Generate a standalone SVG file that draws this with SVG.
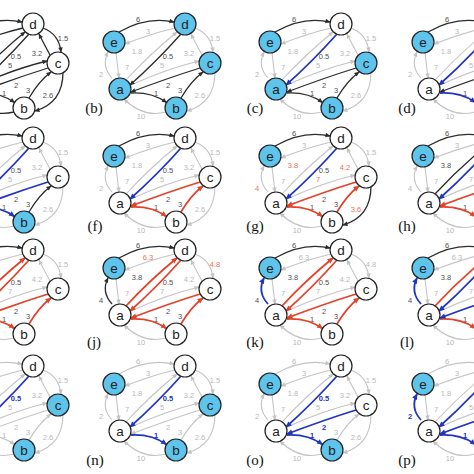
<svg xmlns="http://www.w3.org/2000/svg" xmlns:xlink="http://www.w3.org/1999/xlink" width="474" height="474" viewBox="0 0 474 474">
<style>
.eK{fill:none;stroke:#2b2b2b;stroke-width:1.3;marker-end:url(#mK)}
.eG{fill:none;stroke:#c4c4c4;stroke-width:1.1;marker-end:url(#mG)}
.eB{fill:none;stroke:#2035c2;stroke-width:1.8;marker-end:url(#mB)}
.eR{fill:none;stroke:#e2432a;stroke-width:1.8;marker-end:url(#mR)}
text.l{font-family:"Liberation Sans",Arial,sans-serif;font-size:7.5px;text-anchor:middle}
.tk{fill:#505050}.tg{fill:#b8b8b8}.tr{fill:#e8714f}.tb{fill:#2035c2;font-weight:bold}
circle.n{fill:#fff;stroke:#222;stroke-width:1.2}
circle.s{fill:#5ec4ec}
text.nl{font-family:"Liberation Sans",Arial,sans-serif;font-size:13.5px;text-anchor:middle;fill:#222}
text.p{font-family:"Liberation Serif","Times New Roman",serif;font-size:15px;text-anchor:middle;fill:#111}
</style>
<defs>
<marker id="mK" viewBox="0 0 10 10" refX="9" refY="5" markerWidth="6" markerHeight="5" orient="auto" markerUnits="userSpaceOnUse"><path d="M0,0.5L10,5L0,9.5z" fill="#2b2b2b"/></marker>
<marker id="mG" viewBox="0 0 10 10" refX="9" refY="5" markerWidth="6" markerHeight="5" orient="auto" markerUnits="userSpaceOnUse"><path d="M0,0.5L10,5L0,9.5z" fill="#c4c4c4"/></marker>
<marker id="mB" viewBox="0 0 10 10" refX="9" refY="5" markerWidth="7" markerHeight="6" orient="auto" markerUnits="userSpaceOnUse"><path d="M0,0.5L10,5L0,9.5z" fill="#2035c2"/></marker>
<marker id="mR" viewBox="0 0 10 10" refX="9" refY="5" markerWidth="7" markerHeight="6" orient="auto" markerUnits="userSpaceOnUse"><path d="M0,0.5L10,5L0,9.5z" fill="#e2432a"/></marker>
<path id="p-ed" d="M119,32 Q147,16 174,22"/>
<path id="p-de" d="M175,28 Q150,34 125,44"/>
<path id="p-ae" d="M112,78 Q101,66 108,52"/>
<path id="p-ea" d="M116,53 L119,78"/>
<path id="p-ad" d="M126,80 Q150,54 177,32"/>
<path id="p-da" d="M181,34 Q156,62 130,85"/>
<path id="p-ac" d="M131,85 Q166,69 199,61"/>
<path id="p-ca" d="M200,68 Q168,78 131,92"/>
<path id="p-ab" d="M131,93 Q152,92 166.5,102.5"/>
<path id="p-ba" d="M166,112 Q143,118 124,99"/>
<path id="p-bc" d="M181,98 Q191,81 203,72"/>
<path id="p-cb" d="M215,72 Q215,103 187,111"/>
<path id="p-dc" d="M195,28 Q211,34 213,52"/>
<path id="p-cd" d="M202,55 Q196,44 191,34"/>
</defs>
<rect width="474" height="474" fill="#fff"/>

<!-- (a) -->
<g id="panel-a" transform="translate(-152,0)">
<g id="a-edges">
<use href="#p-ed" class="eK"/><use href="#p-de" class="eK"/><use href="#p-ae" class="eK"/><use href="#p-ea" class="eK"/><use href="#p-ad" class="eK"/><use href="#p-da" class="eK"/><use href="#p-ac" class="eK"/><use href="#p-ca" class="eK"/><use href="#p-ab" class="eK"/><use href="#p-ba" class="eK"/><use href="#p-bc" class="eK"/><use href="#p-cb" class="eK"/><use href="#p-dc" class="eK"/><use href="#p-cd" class="eK"/>
</g>
<g id="a-labels">
<text class="l tk" x="168" y="58.7">0.5</text><text class="l tk" x="162" y="67.7">5</text><text class="l tk" x="168" y="87.7">2</text><text class="l tk" x="156" y="95.7">1</text><text class="l tk" x="180" y="92.7">3</text><text class="l tk" x="200" y="97.7">2.6</text><text class="l tk" x="215" y="40.7">1.5</text><text class="l tk" x="189" y="55.7">3.2</text>
</g>
<g id="a-node-d"><circle class="n" cx="185" cy="24" r="11"/><text class="nl" x="185" y="28.5">d</text></g>
<g id="a-node-c"><circle class="n" cx="210" cy="63" r="11"/><text class="nl" x="210" y="67.5">c</text></g>
<g id="a-node-b"><circle class="n" cx="176" cy="108" r="11"/><text class="nl" x="176" y="112.5">b</text></g>
</g>

<!-- (b) -->
<g id="panel-b" transform="translate(0,0)">
<g id="b-edges">
<use href="#p-de" class="eG"/><use href="#p-ae" class="eG"/><use href="#p-ea" class="eG"/><use href="#p-ad" class="eG"/><use href="#p-ac" class="eG"/><use href="#p-ba" class="eG"/><use href="#p-cb" class="eG"/><use href="#p-dc" class="eG"/><use href="#p-cd" class="eG"/>
<use href="#p-ed" class="eK"/><use href="#p-da" class="eK"/><use href="#p-ca" class="eK"/><use href="#p-ab" class="eK"/><use href="#p-bc" class="eK"/>
</g>
<g id="b-labels">
<text class="l tk" x="138" y="21.7">6</text><text class="l tg" x="148" y="33.7">3</text><text class="l tg" x="101" y="76.7">2</text><text class="l tg" x="127" y="69.7">7</text><text class="l tg" x="137" y="53.7">1.8</text><text class="l tk" x="168" y="58.7">0.5</text><text class="l tg" x="162" y="67.7">5</text><text class="l tk" x="168" y="87.7">2</text><text class="l tk" x="156" y="95.7">1</text><text class="l tg" x="141" y="119.2">10</text><text class="l tk" x="180" y="92.7">3</text><text class="l tg" x="200" y="97.7">2.6</text><text class="l tg" x="215" y="40.7">1.5</text><text class="l tg" x="189" y="55.7">3.2</text>
</g>
<g id="b-node-e"><circle class="n s" cx="114" cy="42" r="11"/><text class="nl" x="114" y="46.5">e</text></g>
<g id="b-node-d"><circle class="n s" cx="185" cy="24" r="11"/><text class="nl" x="185" y="28.5">d</text></g>
<g id="b-node-c"><circle class="n s" cx="210" cy="63" r="11"/><text class="nl" x="210" y="67.5">c</text></g>
<g id="b-node-a"><circle class="n s" cx="120" cy="89" r="11"/><text class="nl" x="120" y="93.5">a</text></g>
<g id="b-node-b"><circle class="n s" cx="176" cy="108" r="11"/><text class="nl" x="176" y="112.5">b</text></g>
<text class="p" x="94" y="113">(b)</text>
</g>

<!-- (c) -->
<g id="panel-c" transform="translate(156,0)">
<g id="c-edges">
<use href="#p-de" class="eG"/><use href="#p-ae" class="eG"/><use href="#p-ea" class="eG"/><use href="#p-ad" class="eG"/><use href="#p-ac" class="eG"/><use href="#p-ba" class="eG"/><use href="#p-cb" class="eG"/><use href="#p-dc" class="eG"/><use href="#p-cd" class="eG"/>
<use href="#p-ed" class="eK"/><use href="#p-ca" class="eK"/><use href="#p-ab" class="eK"/><use href="#p-bc" class="eK"/><use href="#p-da" class="eB"/>
</g>
<g id="c-labels">
<text class="l tk" x="138" y="21.7">6</text><text class="l tg" x="148" y="33.7">3</text><text class="l tg" x="101" y="76.7">2</text><text class="l tg" x="127" y="69.7">7</text><text class="l tg" x="137" y="53.7">1.8</text><text class="l tk" x="168" y="58.7">0.5</text><text class="l tg" x="162" y="67.7">5</text><text class="l tk" x="168" y="87.7">2</text><text class="l tk" x="156" y="95.7">1</text><text class="l tg" x="141" y="119.2">10</text><text class="l tk" x="180" y="92.7">3</text><text class="l tg" x="200" y="97.7">2.6</text><text class="l tg" x="215" y="40.7">1.5</text><text class="l tg" x="189" y="55.7">3.2</text>
</g>
<g id="c-node-e"><circle class="n s" cx="114" cy="42" r="11"/><text class="nl" x="114" y="46.5">e</text></g>
<g id="c-node-d"><circle class="n" cx="185" cy="24" r="11"/><text class="nl" x="185" y="28.5">d</text></g>
<g id="c-node-c"><circle class="n s" cx="210" cy="63" r="11"/><text class="nl" x="210" y="67.5">c</text></g>
<g id="c-node-a"><circle class="n s" cx="120" cy="89" r="11"/><text class="nl" x="120" y="93.5">a</text></g>
<g id="c-node-b"><circle class="n s" cx="176" cy="108" r="11"/><text class="nl" x="176" y="112.5">b</text></g>
<text class="p" x="99" y="113">(c)</text>
</g>

<!-- (d) -->
<g id="panel-d" transform="translate(309,0)">
<g id="d-edges">
<use href="#p-de" class="eG"/><use href="#p-ae" class="eG"/><use href="#p-ea" class="eG"/><use href="#p-ad" class="eG"/><use href="#p-ac" class="eG"/><use href="#p-ba" class="eG"/><use href="#p-cb" class="eG"/><use href="#p-dc" class="eG"/><use href="#p-cd" class="eG"/>
<use href="#p-ed" class="eK"/><use href="#p-ca" class="eK"/><use href="#p-bc" class="eK"/><use href="#p-da" class="eB"/><use href="#p-ab" class="eB"/>
</g>
<g id="d-labels">
<text class="l tk" x="138" y="21.7">6</text><text class="l tg" x="148" y="33.7">3</text><text class="l tg" x="101" y="76.7">2</text><text class="l tg" x="127" y="69.7">7</text><text class="l tg" x="137" y="53.7">1.8</text><text class="l tg" x="162" y="67.7">5</text><text class="l tk" x="156" y="95.7">1</text><text class="l tg" x="141" y="119.2">10</text>
</g>
<g id="d-node-e"><circle class="n s" cx="114" cy="42" r="11"/><text class="nl" x="114" y="46.5">e</text></g>
<g id="d-node-a"><circle class="n" cx="120" cy="89" r="11"/><text class="nl" x="120" y="93.5">a</text></g>
<text class="p" x="98" y="113">(d)</text>
</g>

<!-- (e) -->
<g id="panel-e" transform="translate(-152,114)">
<g id="e-edges">
<use href="#p-de" class="eG"/><use href="#p-ae" class="eG"/><use href="#p-ea" class="eG"/><use href="#p-ad" class="eG"/><use href="#p-ac" class="eG"/><use href="#p-ba" class="eG"/><use href="#p-cb" class="eG"/><use href="#p-dc" class="eG"/><use href="#p-cd" class="eG"/>
<use href="#p-ed" class="eK"/><use href="#p-bc" class="eK"/><use href="#p-da" class="eB"/><use href="#p-ca" class="eB"/><use href="#p-ab" class="eB"/>
</g>
<g id="e-labels">
<text class="l tk" x="168" y="58.7">0.5</text><text class="l tg" x="162" y="67.7">5</text><text class="l tk" x="168" y="87.7">2</text><text class="l tk" x="156" y="95.7">1</text><text class="l tk" x="180" y="92.7">3</text><text class="l tg" x="200" y="97.7">2.6</text><text class="l tg" x="215" y="40.7">1.5</text><text class="l tg" x="189" y="55.7">3.2</text>
</g>
<g id="e-node-d"><circle class="n" cx="185" cy="24" r="11"/><text class="nl" x="185" y="28.5">d</text></g>
<g id="e-node-c"><circle class="n" cx="210" cy="63" r="11"/><text class="nl" x="210" y="67.5">c</text></g>
<g id="e-node-b"><circle class="n s" cx="176" cy="108" r="11"/><text class="nl" x="176" y="112.5">b</text></g>
</g>

<!-- (f) -->
<g id="panel-f" transform="translate(0,114)">
<g id="f-edges">
<use href="#p-de" class="eG"/><use href="#p-ae" class="eG"/><use href="#p-ea" class="eG"/><use href="#p-ad" class="eG"/><use href="#p-ac" class="eG"/><use href="#p-ba" class="eG"/><use href="#p-cb" class="eG"/><use href="#p-dc" class="eG"/><use href="#p-cd" class="eG"/>
<use href="#p-ed" class="eK"/><use href="#p-da" class="eB"/><use href="#p-ca" class="eR"/><use href="#p-ab" class="eR"/><use href="#p-bc" class="eR"/>
</g>
<g id="f-labels">
<text class="l tk" x="138" y="21.7">6</text><text class="l tg" x="148" y="33.7">3</text><text class="l tg" x="101" y="76.7">2</text><text class="l tg" x="127" y="69.7">7</text><text class="l tg" x="137" y="53.7">1.8</text><text class="l tk" x="168" y="58.7">0.5</text><text class="l tg" x="162" y="67.7">5</text><text class="l tk" x="168" y="87.7">2</text><text class="l tk" x="156" y="95.7">1</text><text class="l tg" x="141" y="119.2">10</text><text class="l tk" x="180" y="92.7">3</text><text class="l tg" x="200" y="97.7">2.6</text><text class="l tg" x="215" y="40.7">1.5</text><text class="l tg" x="189" y="55.7">3.2</text>
</g>
<g id="f-node-e"><circle class="n s" cx="114" cy="42" r="11"/><text class="nl" x="114" y="46.5">e</text></g>
<g id="f-node-d"><circle class="n" cx="185" cy="24" r="11"/><text class="nl" x="185" y="28.5">d</text></g>
<g id="f-node-c"><circle class="n" cx="210" cy="63" r="11"/><text class="nl" x="210" y="67.5">c</text></g>
<g id="f-node-a"><circle class="n" cx="120" cy="89" r="11"/><text class="nl" x="120" y="93.5">a</text></g>
<g id="f-node-b"><circle class="n" cx="176" cy="108" r="11"/><text class="nl" x="176" y="112.5">b</text></g>
<text class="p" x="95" y="116.5">(f)</text>
</g>

<!-- (g) -->
<g id="panel-g" transform="translate(156,114)">
<g id="g-edges">
<use href="#p-de" class="eG"/><use href="#p-ae" class="eG"/><use href="#p-ea" class="eG"/><use href="#p-ad" class="eG"/><use href="#p-ac" class="eG"/><use href="#p-ba" class="eG"/><use href="#p-dc" class="eG"/><use href="#p-cd" class="eG"/>
<use href="#p-ed" class="eK"/><use href="#p-cb" class="eK"/><use href="#p-da" class="eB"/><use href="#p-ca" class="eR"/><use href="#p-ab" class="eR"/><use href="#p-bc" class="eR"/>
</g>
<g id="g-labels">
<text class="l tk" x="138" y="21.7">6</text><text class="l tg" x="148" y="33.7">3</text><text class="l tr" x="101" y="76.7">4</text><text class="l tg" x="127" y="69.7">7</text><text class="l tr" x="137" y="53.7">3.8</text><text class="l tk" x="168" y="58.7">0.5</text><text class="l tr" x="162" y="67.7">7</text><text class="l tk" x="168" y="87.7">2</text><text class="l tk" x="156" y="95.7">1</text><text class="l tg" x="141" y="119.2">10</text><text class="l tk" x="180" y="92.7">3</text><text class="l tr" x="200" y="97.7">3.6</text><text class="l tg" x="215" y="40.7">1.5</text><text class="l tr" x="189" y="55.7">4.2</text>
</g>
<g id="g-node-e"><circle class="n s" cx="114" cy="42" r="11"/><text class="nl" x="114" y="46.5">e</text></g>
<g id="g-node-d"><circle class="n" cx="185" cy="24" r="11"/><text class="nl" x="185" y="28.5">d</text></g>
<g id="g-node-c"><circle class="n" cx="210" cy="63" r="11"/><text class="nl" x="210" y="67.5">c</text></g>
<g id="g-node-a"><circle class="n" cx="120" cy="89" r="11"/><text class="nl" x="120" y="93.5">a</text></g>
<g id="g-node-b"><circle class="n" cx="176" cy="108" r="11"/><text class="nl" x="176" y="112.5">b</text></g>
<text class="p" x="99" y="116.5">(g)</text>
</g>

<!-- (h) -->
<g id="panel-h" transform="translate(309,114)">
<g id="h-edges">
<use href="#p-de" class="eG"/><use href="#p-ae" class="eG"/><use href="#p-ea" class="eG"/><use href="#p-ac" class="eG"/><use href="#p-ba" class="eG"/><use href="#p-dc" class="eG"/><use href="#p-cd" class="eG"/>
<use href="#p-ed" class="eK"/><use href="#p-ad" class="eK"/><use href="#p-cb" class="eK"/><use href="#p-da" class="eB"/><use href="#p-ca" class="eR"/><use href="#p-ab" class="eR"/><use href="#p-bc" class="eR"/>
</g>
<g id="h-labels">
<text class="l tk" x="138" y="21.7">6</text><text class="l tg" x="148" y="33.7">3</text><text class="l tg" x="101" y="76.7">4</text><text class="l tg" x="127" y="69.7">7</text><text class="l tk" x="137" y="53.7">3.8</text><text class="l tg" x="162" y="67.7">7</text><text class="l tk" x="156" y="95.7">1</text><text class="l tg" x="141" y="119.2">10</text>
</g>
<g id="h-node-e"><circle class="n s" cx="114" cy="42" r="11"/><text class="nl" x="114" y="46.5">e</text></g>
<g id="h-node-a"><circle class="n" cx="120" cy="89" r="11"/><text class="nl" x="120" y="93.5">a</text></g>
<text class="p" x="98" y="116.5">(h)</text>
</g>

<!-- (i) -->
<g id="panel-i" transform="translate(-152,226)">
<g id="i-edges">
<use href="#p-de" class="eG"/><use href="#p-ae" class="eG"/><use href="#p-ea" class="eG"/><use href="#p-ac" class="eG"/><use href="#p-ba" class="eG"/><use href="#p-dc" class="eG"/><use href="#p-cd" class="eG"/>
<use href="#p-ed" class="eK"/><use href="#p-ad" class="eR"/><use href="#p-da" class="eR"/><use href="#p-ca" class="eR"/><use href="#p-ab" class="eR"/><use href="#p-bc" class="eR"/>
</g>
<g id="i-labels">
<text class="l tk" x="168" y="58.7">0.5</text><text class="l tg" x="162" y="67.7">7</text><text class="l tk" x="168" y="87.7">2</text><text class="l tk" x="156" y="95.7">1</text><text class="l tk" x="180" y="92.7">3</text><text class="l tg" x="215" y="40.7">1.5</text><text class="l tg" x="189" y="55.7">4.2</text>
</g>
<g id="i-node-d"><circle class="n" cx="185" cy="24" r="11"/><text class="nl" x="185" y="28.5">d</text></g>
<g id="i-node-c"><circle class="n" cx="210" cy="63" r="11"/><text class="nl" x="210" y="67.5">c</text></g>
<g id="i-node-b"><circle class="n" cx="176" cy="108" r="11"/><text class="nl" x="176" y="112.5">b</text></g>
</g>

<!-- (j) -->
<g id="panel-j" transform="translate(0,226)">
<g id="j-edges">
<use href="#p-de" class="eG"/><use href="#p-ea" class="eG"/><use href="#p-ac" class="eG"/><use href="#p-ba" class="eG"/><use href="#p-dc" class="eG"/><use href="#p-cd" class="eG"/>
<use href="#p-ed" class="eK"/><use href="#p-ae" class="eK"/><use href="#p-ad" class="eR"/><use href="#p-da" class="eR"/><use href="#p-ca" class="eR"/><use href="#p-ab" class="eR"/><use href="#p-bc" class="eR"/>
</g>
<g id="j-labels">
<text class="l tk" x="138" y="21.7">6</text><text class="l tr" x="148" y="33.7">6.3</text><text class="l tk" x="101" y="76.7">4</text><text class="l tg" x="127" y="69.7">7</text><text class="l tk" x="137" y="53.7">3.8</text><text class="l tk" x="168" y="58.7">0.5</text><text class="l tg" x="162" y="67.7">7</text><text class="l tk" x="168" y="87.7">2</text><text class="l tk" x="156" y="95.7">1</text><text class="l tg" x="141" y="119.2">10</text><text class="l tk" x="180" y="92.7">3</text><text class="l tr" x="215" y="40.7">4.8</text><text class="l tg" x="189" y="55.7">4.2</text>
</g>
<g id="j-node-e"><circle class="n s" cx="114" cy="42" r="11"/><text class="nl" x="114" y="46.5">e</text></g>
<g id="j-node-d"><circle class="n" cx="185" cy="24" r="11"/><text class="nl" x="185" y="28.5">d</text></g>
<g id="j-node-c"><circle class="n" cx="210" cy="63" r="11"/><text class="nl" x="210" y="67.5">c</text></g>
<g id="j-node-a"><circle class="n" cx="120" cy="89" r="11"/><text class="nl" x="120" y="93.5">a</text></g>
<g id="j-node-b"><circle class="n" cx="176" cy="108" r="11"/><text class="nl" x="176" y="112.5">b</text></g>
<text class="p" x="94" y="121">(j)</text>
</g>

<!-- (k) -->
<g id="panel-k" transform="translate(156,226)">
<g id="k-edges">
<use href="#p-de" class="eG"/><use href="#p-ea" class="eG"/><use href="#p-ac" class="eG"/><use href="#p-ba" class="eG"/><use href="#p-dc" class="eG"/><use href="#p-cd" class="eG"/>
<use href="#p-ed" class="eK"/><use href="#p-ad" class="eR"/><use href="#p-da" class="eR"/><use href="#p-ca" class="eR"/><use href="#p-ab" class="eR"/><use href="#p-bc" class="eR"/><use href="#p-ae" class="eB"/>
</g>
<g id="k-labels">
<text class="l tk" x="138" y="21.7">6</text><text class="l tg" x="148" y="33.7">6.3</text><text class="l tk" x="101" y="76.7">4</text><text class="l tg" x="127" y="69.7">7</text><text class="l tk" x="137" y="53.7">3.8</text><text class="l tk" x="168" y="58.7">0.5</text><text class="l tg" x="162" y="67.7">7</text><text class="l tk" x="168" y="87.7">2</text><text class="l tk" x="156" y="95.7">1</text><text class="l tg" x="141" y="119.2">10</text><text class="l tk" x="180" y="92.7">3</text><text class="l tg" x="215" y="40.7">4.8</text><text class="l tg" x="189" y="55.7">4.2</text>
</g>
<g id="k-node-e"><circle class="n s" cx="114" cy="42" r="11"/><text class="nl" x="114" y="46.5">e</text></g>
<g id="k-node-d"><circle class="n" cx="185" cy="24" r="11"/><text class="nl" x="185" y="28.5">d</text></g>
<g id="k-node-c"><circle class="n" cx="210" cy="63" r="11"/><text class="nl" x="210" y="67.5">c</text></g>
<g id="k-node-a"><circle class="n" cx="120" cy="89" r="11"/><text class="nl" x="120" y="93.5">a</text></g>
<g id="k-node-b"><circle class="n" cx="176" cy="108" r="11"/><text class="nl" x="176" y="112.5">b</text></g>
<text class="p" x="99" y="121">(k)</text>
</g>

<!-- (l) -->
<g id="panel-l" transform="translate(309,226)">
<g id="l-edges">
<use href="#p-de" class="eG"/><use href="#p-ea" class="eG"/><use href="#p-ac" class="eG"/><use href="#p-ba" class="eG"/><use href="#p-dc" class="eG"/><use href="#p-cd" class="eG"/>
<use href="#p-ed" class="eK"/><use href="#p-ad" class="eR"/><use href="#p-ab" class="eR"/><use href="#p-bc" class="eR"/><use href="#p-ae" class="eB"/><use href="#p-da" class="eB"/><use href="#p-ca" class="eB"/>
</g>
<g id="l-labels">
<text class="l tk" x="138" y="21.7">6</text><text class="l tg" x="148" y="33.7">6.3</text><text class="l tk" x="101" y="76.7">4</text><text class="l tg" x="127" y="69.7">7</text><text class="l tk" x="137" y="53.7">3.8</text><text class="l tg" x="162" y="67.7">7</text><text class="l tk" x="156" y="95.7">1</text><text class="l tg" x="141" y="119.2">10</text>
</g>
<g id="l-node-e"><circle class="n s" cx="114" cy="42" r="11"/><text class="nl" x="114" y="46.5">e</text></g>
<g id="l-node-a"><circle class="n" cx="120" cy="89" r="11"/><text class="nl" x="120" y="93.5">a</text></g>
<text class="p" x="98" y="121">(l)</text>
</g>

<!-- (m) -->
<g id="panel-m" transform="translate(-152,342)">
<g id="m-edges">
<use href="#p-ed" class="eG"/><use href="#p-de" class="eG"/><use href="#p-ae" class="eG"/><use href="#p-ea" class="eG"/><use href="#p-ad" class="eG"/><use href="#p-ac" class="eG"/><use href="#p-ca" class="eG"/><use href="#p-ab" class="eG"/><use href="#p-ba" class="eG"/><use href="#p-bc" class="eG"/><use href="#p-cb" class="eG"/><use href="#p-dc" class="eG"/><use href="#p-cd" class="eG"/>
<use href="#p-da" class="eB"/>
</g>
<g id="m-labels">
<text class="l tb" x="168" y="58.7">0.5</text><text class="l tg" x="162" y="67.7">5</text><text class="l tg" x="168" y="87.7">2</text><text class="l tg" x="156" y="95.7">1</text><text class="l tg" x="180" y="92.7">3</text><text class="l tg" x="200" y="97.7">2.6</text><text class="l tg" x="215" y="40.7">1.5</text><text class="l tg" x="189" y="55.7">3.2</text>
</g>
<g id="m-node-d"><circle class="n" cx="185" cy="24" r="11"/><text class="nl" x="185" y="28.5">d</text></g>
<g id="m-node-c"><circle class="n s" cx="210" cy="63" r="11"/><text class="nl" x="210" y="67.5">c</text></g>
<g id="m-node-b"><circle class="n s" cx="176" cy="108" r="11"/><text class="nl" x="176" y="112.5">b</text></g>
</g>

<!-- (n) -->
<g id="panel-n" transform="translate(0,342)">
<g id="n-edges">
<use href="#p-ed" class="eG"/><use href="#p-de" class="eG"/><use href="#p-ae" class="eG"/><use href="#p-ea" class="eG"/><use href="#p-ad" class="eG"/><use href="#p-ac" class="eG"/><use href="#p-ca" class="eG"/><use href="#p-ba" class="eG"/><use href="#p-bc" class="eG"/><use href="#p-cb" class="eG"/><use href="#p-dc" class="eG"/><use href="#p-cd" class="eG"/>
<use href="#p-da" class="eB"/><use href="#p-ab" class="eB"/>
</g>
<g id="n-labels">
<text class="l tg" x="138" y="21.7">6</text><text class="l tg" x="148" y="33.7">3</text><text class="l tg" x="101" y="76.7">2</text><text class="l tg" x="127" y="69.7">7</text><text class="l tg" x="137" y="53.7">1.8</text><text class="l tb" x="168" y="58.7">0.5</text><text class="l tg" x="162" y="67.7">5</text><text class="l tg" x="168" y="87.7">2</text><text class="l tb" x="156" y="95.7">1</text><text class="l tg" x="141" y="119.2">10</text><text class="l tg" x="180" y="92.7">3</text><text class="l tg" x="200" y="97.7">2.6</text><text class="l tg" x="215" y="40.7">1.5</text><text class="l tg" x="189" y="55.7">3.2</text>
</g>
<g id="n-node-e"><circle class="n s" cx="114" cy="42" r="11"/><text class="nl" x="114" y="46.5">e</text></g>
<g id="n-node-d"><circle class="n" cx="185" cy="24" r="11"/><text class="nl" x="185" y="28.5">d</text></g>
<g id="n-node-c"><circle class="n s" cx="210" cy="63" r="11"/><text class="nl" x="210" y="67.5">c</text></g>
<g id="n-node-a"><circle class="n" cx="120" cy="89" r="11"/><text class="nl" x="120" y="93.5">a</text></g>
<g id="n-node-b"><circle class="n s" cx="176" cy="108" r="11"/><text class="nl" x="176" y="112.5">b</text></g>
<text class="p" x="95" y="123">(n)</text>
</g>

<!-- (o) -->
<g id="panel-o" transform="translate(156,342)">
<g id="o-edges">
<use href="#p-ed" class="eG"/><use href="#p-de" class="eG"/><use href="#p-ae" class="eG"/><use href="#p-ea" class="eG"/><use href="#p-ad" class="eG"/><use href="#p-ac" class="eG"/><use href="#p-ba" class="eG"/><use href="#p-bc" class="eG"/><use href="#p-cb" class="eG"/><use href="#p-dc" class="eG"/><use href="#p-cd" class="eG"/>
<use href="#p-da" class="eB"/><use href="#p-ab" class="eB"/><use href="#p-ca" class="eB"/>
</g>
<g id="o-labels">
<text class="l tg" x="138" y="21.7">6</text><text class="l tg" x="148" y="33.7">3</text><text class="l tg" x="101" y="76.7">2</text><text class="l tg" x="127" y="69.7">7</text><text class="l tg" x="137" y="53.7">1.8</text><text class="l tb" x="168" y="58.7">0.5</text><text class="l tg" x="162" y="67.7">5</text><text class="l tb" x="168" y="87.7">2</text><text class="l tb" x="156" y="95.7">1</text><text class="l tg" x="141" y="119.2">10</text><text class="l tg" x="180" y="92.7">3</text><text class="l tg" x="200" y="97.7">2.6</text><text class="l tg" x="215" y="40.7">1.5</text><text class="l tg" x="189" y="55.7">3.2</text>
</g>
<g id="o-node-e"><circle class="n s" cx="114" cy="42" r="11"/><text class="nl" x="114" y="46.5">e</text></g>
<g id="o-node-d"><circle class="n" cx="185" cy="24" r="11"/><text class="nl" x="185" y="28.5">d</text></g>
<g id="o-node-c"><circle class="n" cx="210" cy="63" r="11"/><text class="nl" x="210" y="67.5">c</text></g>
<g id="o-node-a"><circle class="n" cx="120" cy="89" r="11"/><text class="nl" x="120" y="93.5">a</text></g>
<g id="o-node-b"><circle class="n s" cx="176" cy="108" r="11"/><text class="nl" x="176" y="112.5">b</text></g>
<text class="p" x="99" y="123">(o)</text>
</g>

<!-- (p) -->
<g id="panel-p" transform="translate(309,342)">
<g id="p-edges">
<use href="#p-ed" class="eG"/><use href="#p-de" class="eG"/><use href="#p-ea" class="eG"/><use href="#p-ad" class="eG"/><use href="#p-ac" class="eG"/><use href="#p-ba" class="eG"/><use href="#p-bc" class="eG"/><use href="#p-cb" class="eG"/><use href="#p-dc" class="eG"/><use href="#p-cd" class="eG"/>
<use href="#p-ae" class="eB"/><use href="#p-da" class="eB"/><use href="#p-ab" class="eB"/><use href="#p-ca" class="eB"/>
</g>
<g id="p-labels">
<text class="l tg" x="138" y="21.7">6</text><text class="l tg" x="148" y="33.7">3</text><text class="l tb" x="101" y="76.7">2</text><text class="l tg" x="127" y="69.7">7</text><text class="l tg" x="137" y="53.7">1.8</text><text class="l tg" x="162" y="67.7">5</text><text class="l tb" x="156" y="95.7">1</text><text class="l tg" x="141" y="119.2">10</text>
</g>
<g id="p-node-e"><circle class="n s" cx="114" cy="42" r="11"/><text class="nl" x="114" y="46.5">e</text></g>
<g id="p-node-a"><circle class="n" cx="120" cy="89" r="11"/><text class="nl" x="120" y="93.5">a</text></g>
<text class="p" x="98" y="123">(p)</text>
</g>
</svg>
